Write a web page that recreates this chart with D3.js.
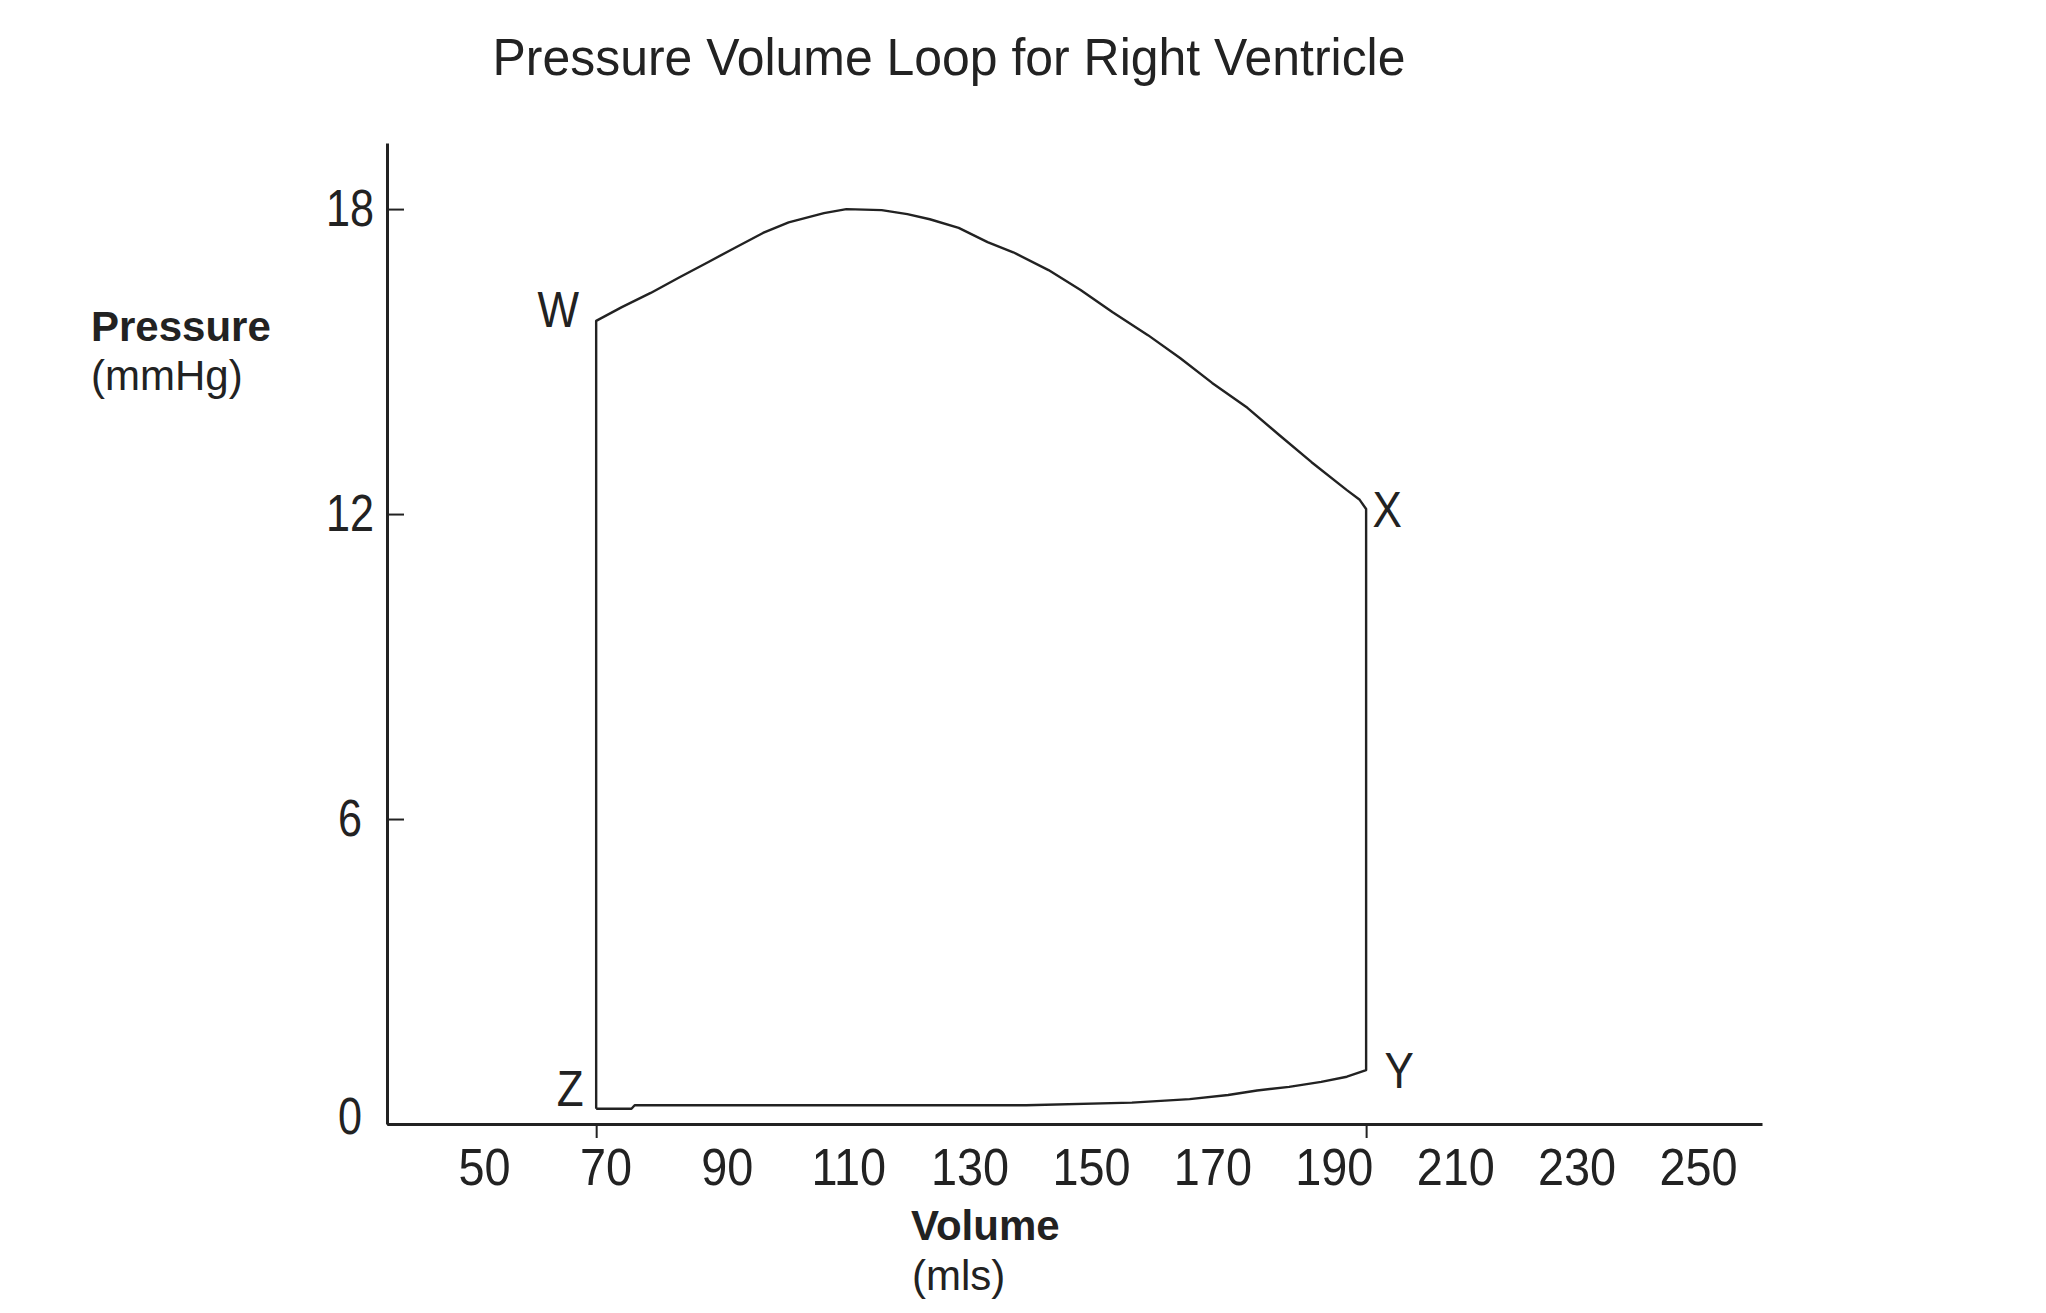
<!DOCTYPE html>
<html>
<head>
<meta charset="utf-8">
<script src="https://cdn.jsdelivr.net/npm/d3@7"></script>
<style>
  body { margin: 0; background: #fff; }
  text { font-family: "Liberation Sans", Arial, sans-serif; fill: #222; }
</style>
</head>
<body>
<svg id="chart" width="2046" height="1313"></svg>
<script>
// loop traced clockwise: Z -> W -> top curve -> X -> Y -> bottom curve -> Z
const loopVolume   = [70, 70, 74, 78.5, 83, 87.5, 91.5, 96, 100, 105.5, 109, 114.5, 118.5, 122, 126.5, 131, 135, 140.5, 145.5, 150.5, 156, 161, 166, 171.5, 176.5, 181.5, 187, 189, 190, 190, 187, 183, 178, 173, 168.5, 162.5, 153.5, 137, 76, 75.5, 70];
const loopPressure = [0.3, 15.8, 16.07, 16.35, 16.66, 16.96, 17.23, 17.53, 17.74, 17.92, 18.0, 17.98, 17.9, 17.8, 17.63, 17.35, 17.15, 16.8, 16.41, 15.97, 15.52, 15.07, 14.58, 14.09, 13.55, 13.02, 12.47, 12.28, 12.1, 1.06, 0.93, 0.83, 0.73, 0.66, 0.57, 0.49, 0.42, 0.37, 0.37, 0.3, 0.3];

const cornerNames = ["W", "X", "Y", "Z"];
const cornerIndex = [1, 28, 29, 0];

const xTickLabels = [50, 70, 90, 110, 130, 150, 170, 190, 210, 230, 250];
const xTickMarks = [70, 190];
const yTickValues = [0, 6, 12, 18];

const xDomain = [37.4, 251.7];
const yDomain = [0, 19.3];

//==================== SVG + SCALES ====================
let svg = d3.select("#chart"),
    plot = {left: 387, right: 1762, top: 143, bottom: 1124};

let x = d3.scaleLinear().domain(xDomain).range([plot.left, plot.right]),
    y = d3.scaleLinear().domain(yDomain).range([plot.bottom, plot.top]),
    xLabel = d3.scalePoint().domain(xTickLabels).range([484, 1698]); // labels in the source sit a bit off the true scale

// squash text horizontally like the source picture
function squeeze(sel, ratio) {
  sel.each(function() {
    let w = this.getComputedTextLength();
    d3.select(this).attr("textLength", w * ratio).attr("lengthAdjust", "spacingAndGlyphs");
  });
}

//==================== AXES ====================
let yAxis = svg.append("g")
  .attr("transform", "translate(" + plot.left + ",0)")
  .call(d3.axisLeft(y).tickValues(yTickValues).tickSize(-17).tickSizeOuter(0).tickPadding(37));
yAxis.select(".domain").attr("stroke", "#222").attr("stroke-width", 3);
yAxis.selectAll(".tick line").attr("stroke", "#222").attr("stroke-width", 2);
yAxis.selectAll(".tick text")
  .attr("text-anchor", "middle")
  .attr("dy", function(d) { return d === 0 ? "0.18em" : "0.32em"; })
  .style("font-size", "52px")
  .attr("fill", "#222")
  .call(squeeze, 0.83);

let xAxis = svg.append("g")
  .attr("transform", "translate(0," + plot.bottom + ")")
  .call(d3.axisBottom(x).tickValues(xTickMarks).tickSize(14).tickSizeOuter(0).tickFormat(""));
xAxis.select(".domain").attr("stroke", "#222").attr("stroke-width", 3);
xAxis.selectAll(".tick line").attr("stroke", "#222").attr("stroke-width", 2);

let xLabels = svg.append("g")
  .attr("transform", "translate(0," + plot.bottom + ")")
  .call(d3.axisBottom(xLabel).tickSize(0).tickPadding(24));
xLabels.select(".domain").remove();
xLabels.selectAll(".tick text")
  .style("font-size", "52px")
  .attr("fill", "#222")
  .call(squeeze, 0.9);

//==================== LOOP ====================
let loopData = loopVolume.map(function(v, i) { return {volume: v, pressure: loopPressure[i]}; });

let line = d3.line()
  .x(function(d) { return x(d.volume); })
  .y(function(d) { return y(d.pressure); });

svg.append("path")
  .datum(loopData)
  .attr("d", line)
  .attr("fill", "none")
  .attr("stroke", "#222")
  .attr("stroke-width", 2.4)
  .attr("stroke-linejoin", "round");

// corner letters, offset from their corner point
let offsets = {W: [-38, -12], X: [21, 0], Y: [33, 0], Z: [-26, -21]};
svg.selectAll(".corner")
  .data(cornerNames)
  .enter().append("text")
  .attr("class", "corner")
  .attr("x", function(d, i) { return x(loopData[cornerIndex[i]].volume) + offsets[d][0]; })
  .attr("y", function(d, i) { return y(loopData[cornerIndex[i]].pressure) + offsets[d][1]; })
  .attr("dy", "0.36em")
  .attr("text-anchor", "middle")
  .style("font-size", "50px")
  .text(function(d) { return d; })
  .call(squeeze, 0.88);

//==================== TITLES ====================
svg.append("text")
  .attr("x", 949).attr("y", 75)
  .attr("text-anchor", "middle")
  .style("font-size", "52px")
  .text("Pressure Volume Loop for Right Ventricle")
  .call(squeeze, 0.96);

svg.append("text").attr("x", 91).attr("y", 341)
  .style("font-size", "42px").style("font-weight", "bold").text("Pressure");
svg.append("text").attr("x", 91).attr("y", 390)
  .style("font-size", "42px").text("(mmHg)");

svg.append("text").attr("x", 911).attr("y", 1240)
  .style("font-size", "42px").style("font-weight", "bold").text("Volume");
svg.append("text").attr("x", 912).attr("y", 1290)
  .style("font-size", "42px").text("(mls)");
</script>
</body>
</html>
